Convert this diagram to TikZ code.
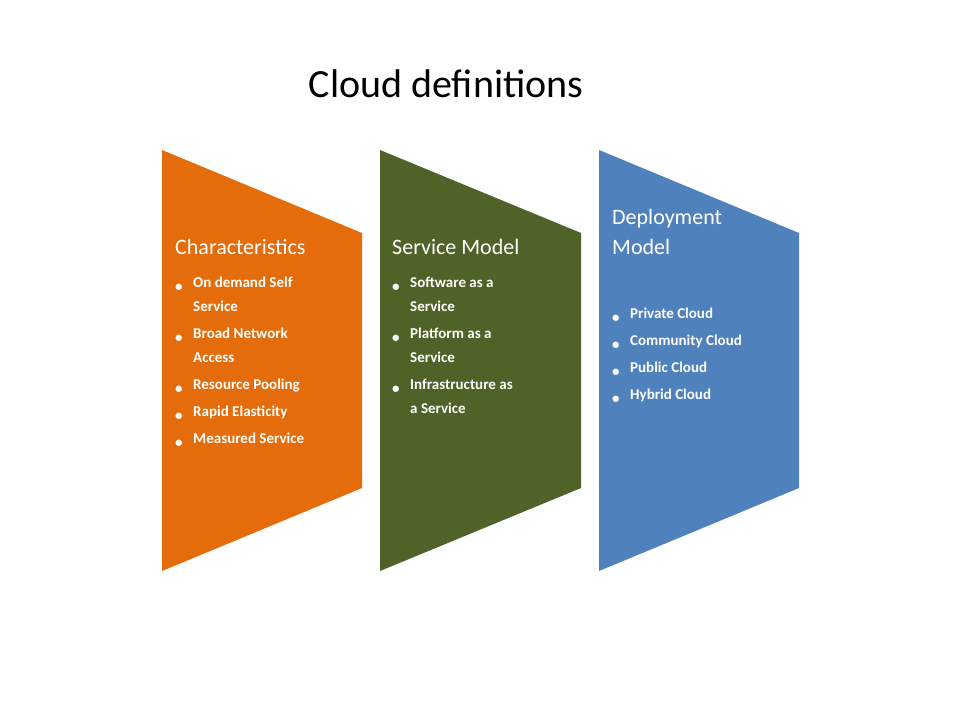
\documentclass[tikz,border=0pt]{standalone}
\usepackage{fontspec}
\setmainfont{Carlito}
\definecolor{corange}{HTML}{E46C0A}
\definecolor{cgreen}{HTML}{4F6228}
\definecolor{cblue}{HTML}{4F81BD}
\tikzset{
 head/.style={anchor=base west,inner sep=0pt,text=white,font=\fontsize{22}{26}\selectfont},
 bul/.style={anchor=base west,inner sep=0pt,text=white,font=\fontsize{15}{18}\selectfont\bfseries},
 panel/.style={draw=none}
}
\newcommand{\bitem}[4]{%
 \node[bul] (#1b) at (#2,#3) {\textbullet};
 \node[bul,anchor=north west,align=left,font=\fontsize{15}{24}\selectfont\bfseries] (#1) at ([xshift=18pt]#2,#3-14) {#4};}
\begin{document}
\begin{tikzpicture}[x=1pt,y=-1pt]
\useasboundingbox[fill=white] (0,0) rectangle (960,720);
\node[anchor=base,inner sep=0pt,font=\fontsize{40}{44}\selectfont] (title) at (446,97) {Cloud definitions};
\fill[corange] (162,150) -- (362,233) -- (362,488) -- (162,571) -- cycle;
\fill[cgreen] (380,150) -- (581,233) -- (581,488) -- (380,571) -- cycle;
\fill[cblue] (599,150) -- (799,233) -- (799,488) -- (599,571) -- cycle;
\node[head] (h1) at (175,254) {Characteristics};
\node[head] (h2) at (392,254) {Service Model};
\node[head,align=left,font=\fontsize{22}{30}\selectfont] (h3) at (612,254) {Deployment\\Model};
\bitem{a1}{175}{291}{On demand Self\\Service}
\bitem{a2}{175}{342}{Broad Network\\Access}
\bitem{a3}{175}{393}{Resource Pooling}
\bitem{a4}{175}{420}{Rapid Elasticity}
\bitem{a5}{175}{447}{Measured Service}
\bitem{b1}{392}{291}{Software as a\\Service}
\bitem{b2}{392}{342}{Platform as a\\Service}
\bitem{b3}{392}{393}{Infrastructure as\\a Service}
\bitem{c1}{612}{322}{Private Cloud}
\bitem{c2}{612}{349}{Community Cloud}
\bitem{c3}{612}{376}{Public Cloud}
\bitem{c4}{612}{403}{Hybrid Cloud}
\end{tikzpicture}
\end{document}
